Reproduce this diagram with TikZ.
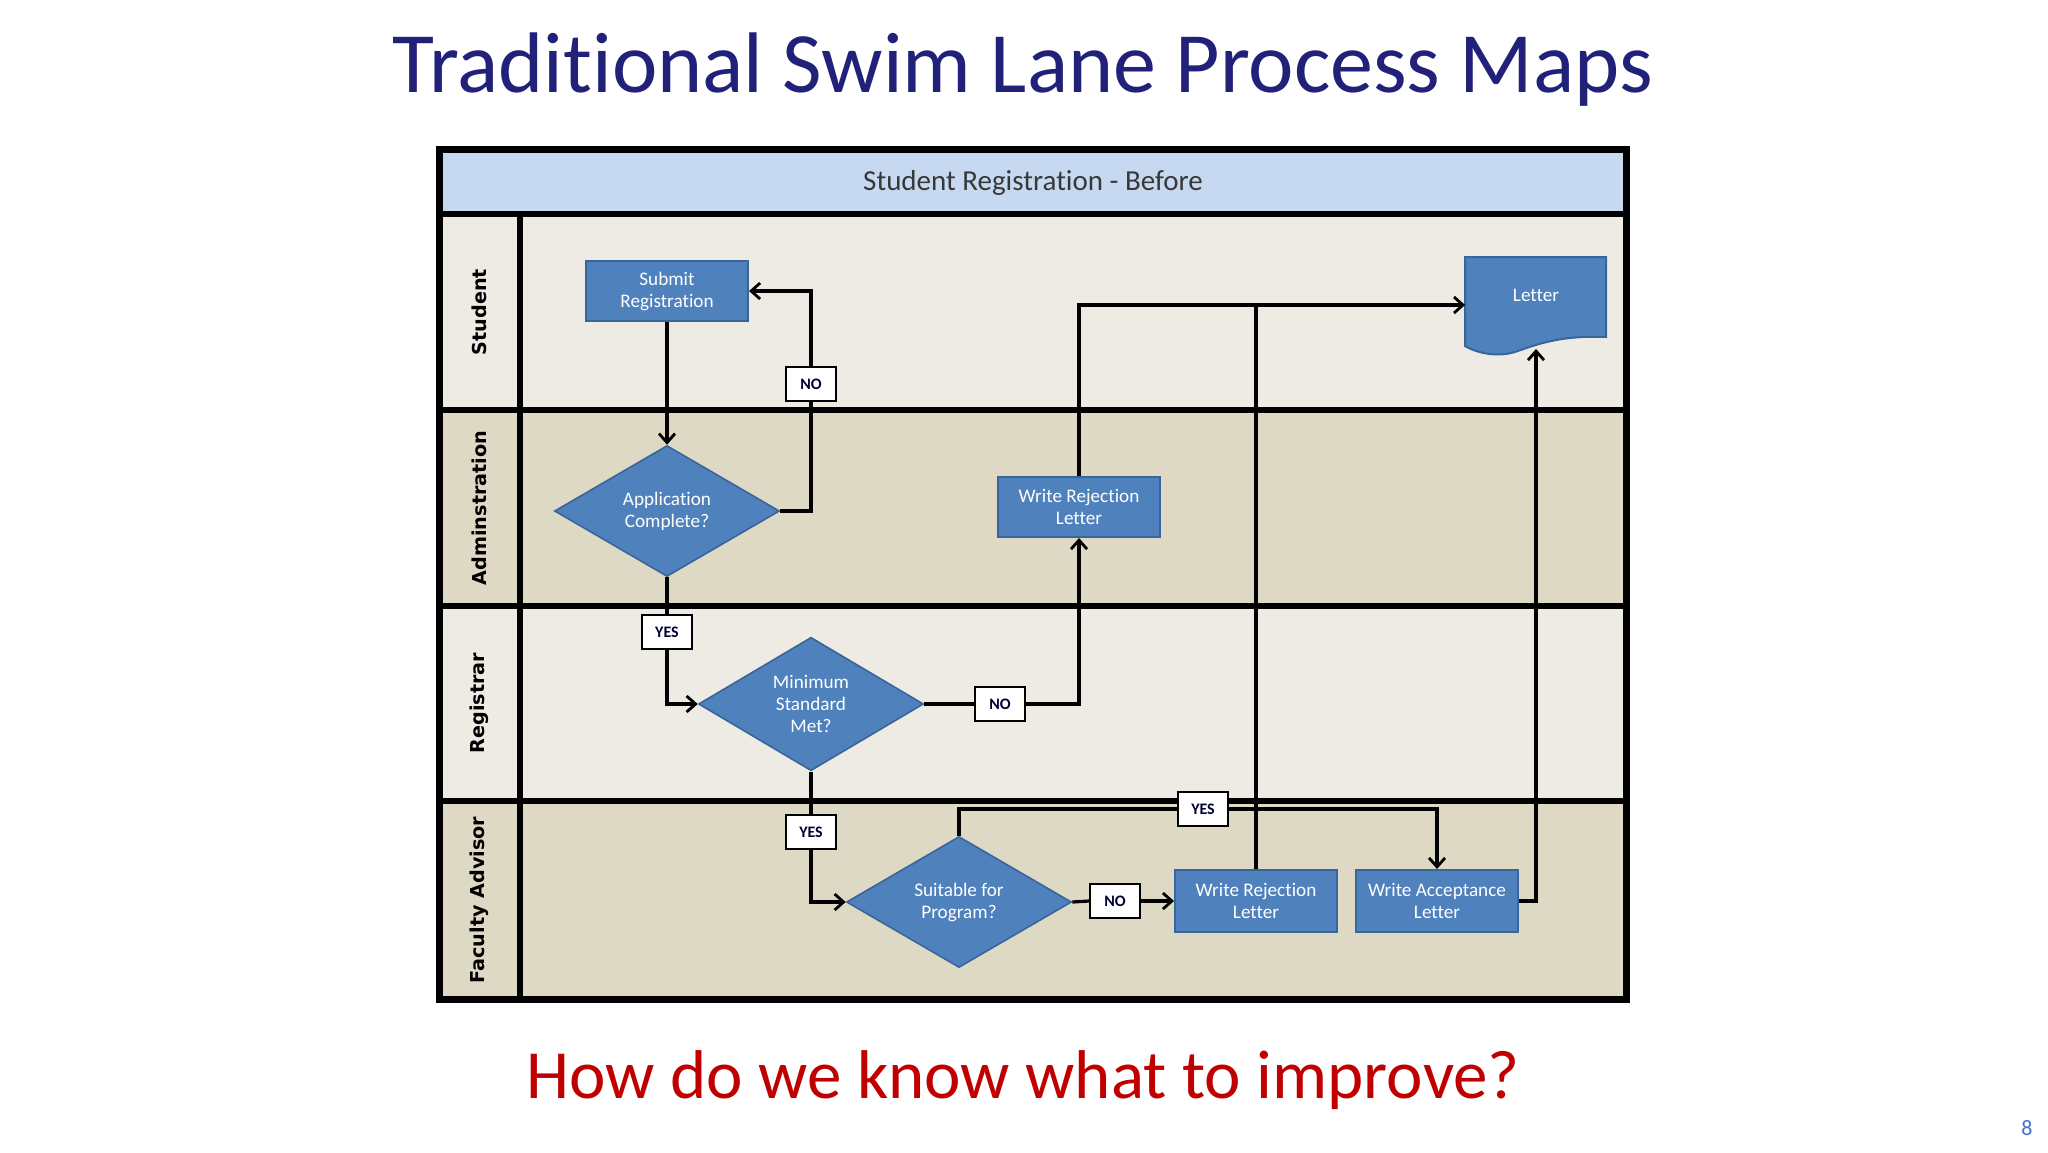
\documentclass[tikz,border=0pt]{standalone}
\usepackage{fontspec}
\setmainfont{Carlito}[Ligatures=NoCommon]
\newfontfamily\lanefont{DejaVu Sans}
\usetikzlibrary{shapes.geometric,arrows.meta}
\definecolor{titleblue}{HTML}{21217A}
\definecolor{redq}{HTML}{C00000}
\definecolor{hdr}{HTML}{C6D9F1}
\definecolor{laneA}{HTML}{EEEBE4}
\definecolor{laneB}{HTML}{DDD9C4}
\definecolor{boxblue}{HTML}{4F81BD}
\definecolor{boxedge}{HTML}{3A659A}
\definecolor{pagenum}{HTML}{4472C4}
\tikzset{
  procbox/.style={rectangle, fill=boxblue, draw=boxedge, line width=1pt,
    minimum width=81pt, minimum height=30pt, inner sep=1pt, align=center,
    text=white, font=\fontsize{9.6}{11}\selectfont},
  decision/.style={diamond, fill=boxblue, draw=boxedge, line width=0.8pt,
    minimum width=112.5pt, minimum height=65.5pt, inner sep=0pt, align=center,
    text=white, font=\fontsize{9.6}{11}\selectfont},
  tag/.style={rectangle, fill=white, draw=black, line width=1pt,
    minimum width=25pt, minimum height=17pt, inner sep=1pt,
    font=\bfseries\fontsize{8}{9}\selectfont, text=black!80!blue},
  conn/.style={line width=1.6pt, draw=black},
  arr/.style={conn, -{Straight Barb[length=4.5pt, width=8pt, line width=1.4pt]}},
  lanelbl/.style={rotate=90, font=\lanefont\bfseries\fontsize{9.6}{10}\selectfont},
  frameline/.style={line width=3pt, draw=black}
}
\begin{document}
\begin{tikzpicture}[x=0.5pt,y=-0.5pt]
\useasboundingbox (0,0) rectangle (2048,1152);
\fill[white] (0,0) rectangle (2048,1152);

% title and footer
\node[font=\fontsize{43}{52}\selectfont, text=titleblue] (title) at (1023,70) {Traditional Swim Lane Process Maps};
\node[font=\fontsize{34.5}{42}\selectfont, text=redq] (question) at (1023,1080) {How do we know what to improve?};
\node[font=\fontsize{11}{13}\selectfont, text=pagenum] (pnum) at (2027,1128) {8};

% lanes
\fill[hdr] (439,149) rectangle (1626,214);
\fill[laneA] (439,214) rectangle (1626,410);
\fill[laneB] (439,410) rectangle (1626,606);
\fill[laneA] (439,606) rectangle (1626,801);
\fill[laneB] (439,801) rectangle (1626,999);
\draw[frameline] (439,214) -- (1626,214);
\draw[frameline] (439,410) -- (1626,410);
\draw[frameline] (439,606) -- (1626,606);
\draw[frameline] (439,801) -- (1626,801);
\draw[frameline] (520,214) -- (520,999);
\draw[line width=3.5pt] (439,149) rectangle (1626,999);

\node[font=\fontsize{14.5}{17}\selectfont, text=black!78] (header) at (1033,183) {Student Registration - Before};
\node[lanelbl] (lstudent) at (479,312) {Student};
\node[lanelbl] (ladmin) at (479,508) {Adminstration};
\node[lanelbl] (lreg) at (479,703) {Registrar};
\node[lanelbl] (lfac) at (479,900) {Faculty Advisor};

% nodes
\node[procbox] (submit) at (667,291) {Submit\\Registration};
\node[decision] (appl) at (667,511) {Application\\Complete?};
\node[decision] (minstd) at (811,704) {Minimum\\Standard\\Met?};
\node[decision] (suit) at (959,902) {Suitable for\\Program?};
\node[procbox] (wrA) at (1079,507) {Write Rejection\\Letter};
\node[procbox, minimum height=31pt] (wrF) at (1256,901) {Write Rejection\\Letter};
\node[procbox, minimum height=31pt] (wrAcc) at (1437,901) {Write Acceptance\\Letter};

% letter document
\node[minimum width=70.5pt, minimum height=48pt, inner sep=0pt] (letter) at (1536,305) {};
\fill[boxblue] (1465,257) -- (1606,257) -- (1606,337)
  .. controls (1560,335) and (1535,345) .. (1515,352)
  .. controls (1495,358) and (1475,352) .. (1465,346) -- cycle;
\draw[boxedge, line width=1pt] (1465,257) -- (1606,257) -- (1606,337)
  .. controls (1560,335) and (1535,345) .. (1515,352)
  .. controls (1495,358) and (1475,352) .. (1465,346) -- cycle;
\node[text=white, font=\fontsize{9.6}{11}\selectfont] (lettertext) at (1536,295) {Letter};
\coordinate (letb) at (1536,349);
\coordinate (j1) at (1256,306);

% tags
\node[tag] (noA) at (811,384) {NO};
\node[tag] (yesA) at (667,632) {YES};
\node[tag] (noB) at (1000,704) {NO};
\node[tag] (yesB) at (811,832) {YES};
\node[tag] (noC) at (1115,901) {NO};

% connectors
\draw[arr] (submit.south) -- (appl.north);
\draw[conn] (appl.east) -| (noA.south);
\draw[arr] (noA.north) |- (submit.east);
\draw[conn] (appl.south) -- (yesA.north);
\draw[arr] (yesA.south) |- (minstd.west);
\draw[conn] (minstd.east) -- (noB.west);
\draw[arr] (noB.east) -| (wrA.south);
\draw[arr] (wrA.north) |- (letter.west);
\draw[conn] (wrF.north) -- (j1);
\draw[conn] (minstd.south) -- (yesB.north);
\draw[arr] (yesB.south) |- (suit.west);
\draw[conn] (suit.east) -- (noC.west);
\draw[arr] (noC.east) -- (wrF.west);
\node[tag] (yesC) at (1203,809) {YES};
\draw[conn] (suit.north) |- (yesC.west);
\draw[arr] (yesC.east) -| (wrAcc.north);
\draw[arr] (wrAcc.east) -| (letb);
\end{tikzpicture}
\end{document}
